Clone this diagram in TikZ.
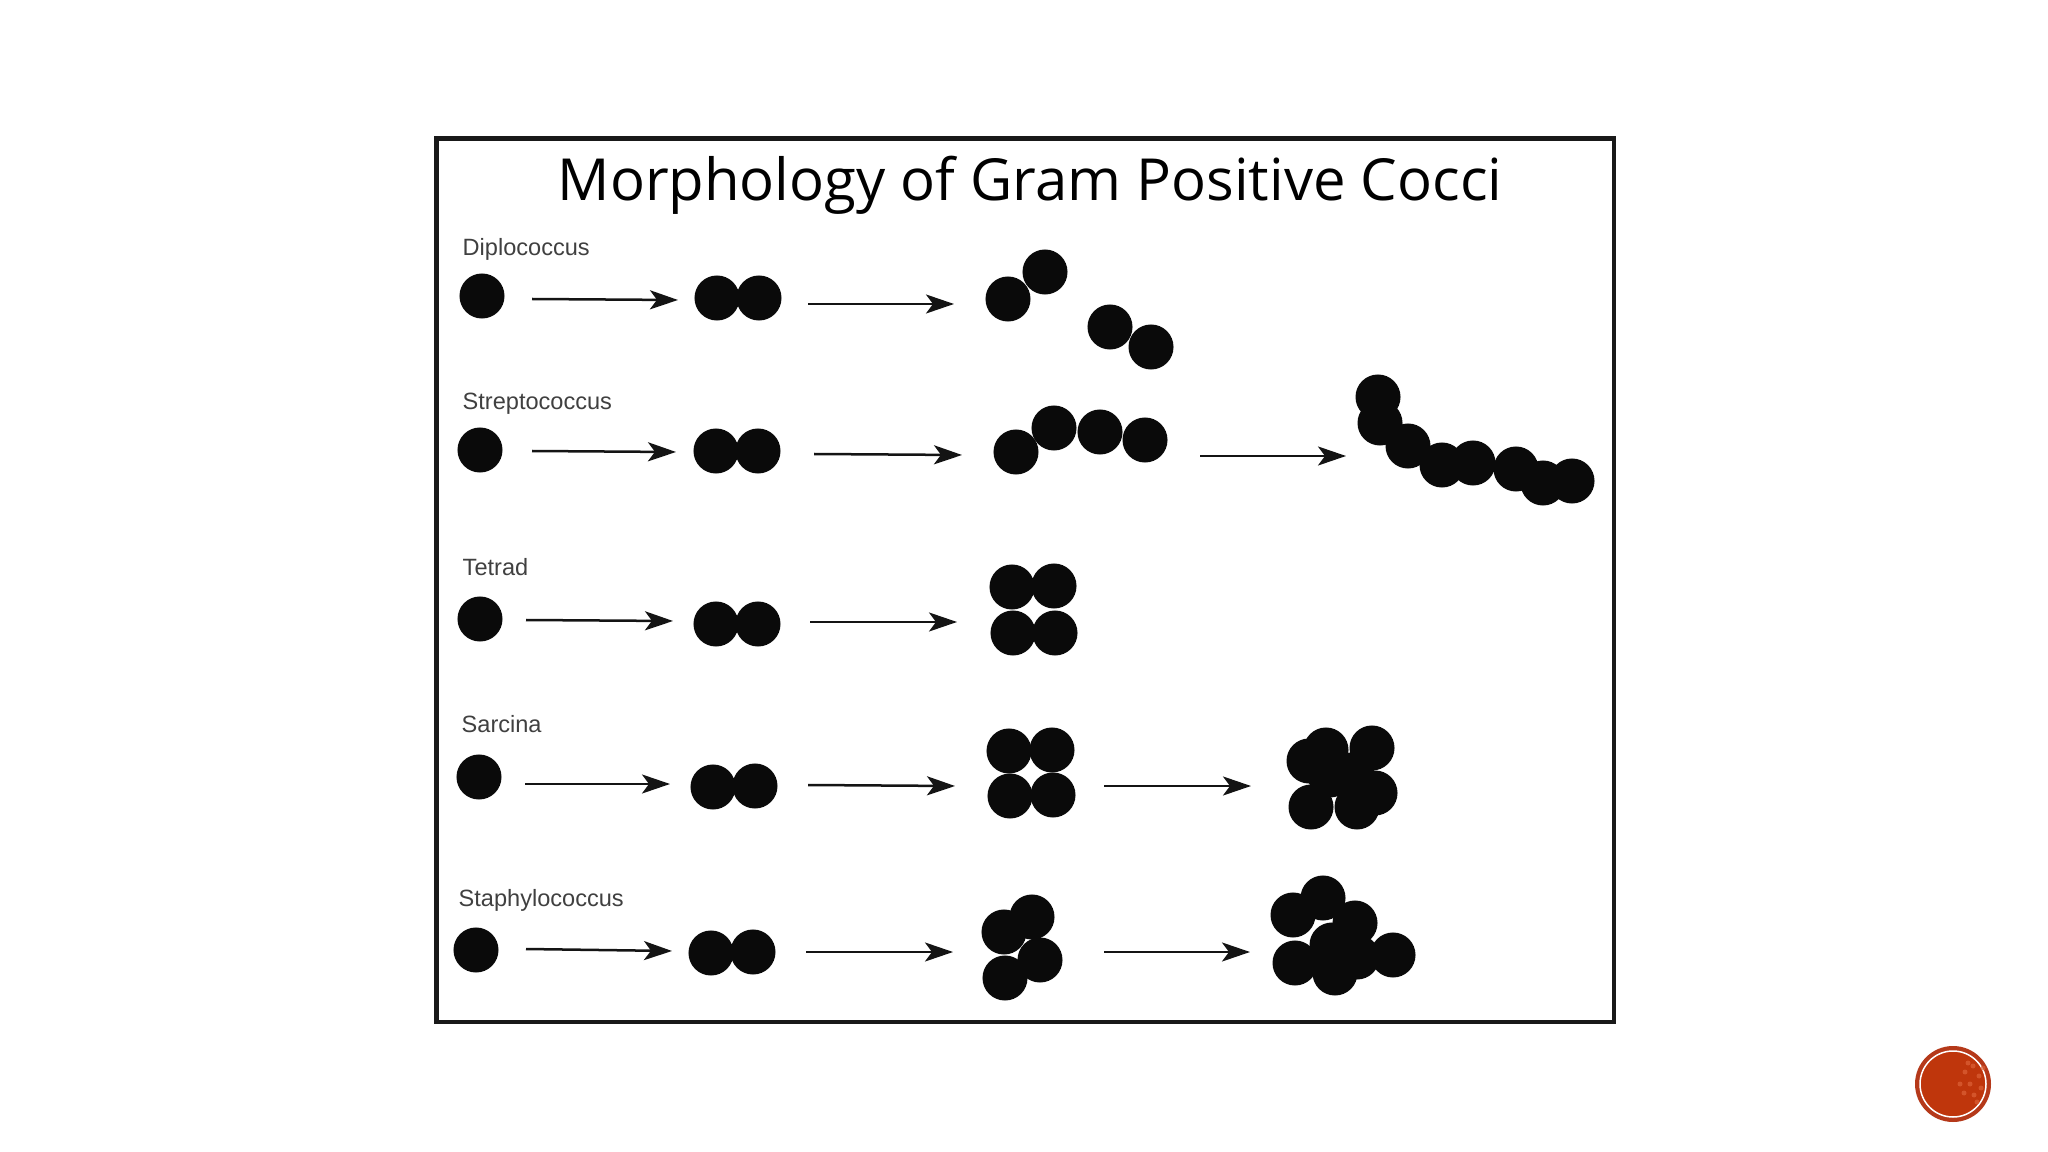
\documentclass[tikz,border=0pt]{standalone}
\usepackage{fontspec}
\setmainfont{Open Sans}
\newfontfamily\labelfont{Liberation Sans}
\usetikzlibrary{calc,arrows.meta}
\definecolor{btnred}{HTML}{BF360C}
\definecolor{btnrim}{HTML}{B5391A}
\definecolor{btnspot}{HTML}{DC6238}
\tikzset{
	coccus/.style={circle,fill=black!96,inner sep=0,minimum size=0.45cm},
	growth/.style={draw=black!92,line width=0.25mm,-{Stealth[length=2.8mm,width=1.9mm,inset=0.7mm]}},
	rowlabel/.style={anchor=base west,inner sep=0,text=black!75,font=\labelfont\fontsize{6.7}{8}\selectfont}
}

\begin{document}
\begin{tikzpicture}[x=0.01cm,y=-0.01cm]
			\useasboundingbox (0,0) rectangle (2048,1152);
			\fill[white] (0,0) rectangle (2048,1152);
			%%%%% FRAME %%%%%
			\draw[line width=0.42mm,black!90] (436.5,138.5) rectangle (1614,1022);
			\node[anchor=base,inner sep=0,font=\fontsize{16.5}{20}\selectfont] (title) at (1030,201) {Morphology of Gram Positive Cocci};
			
			%%%%% DIPLOCOCCUS %%%%%
			\node[rowlabel] (diplolabel) at (462,256) {Diplococcus};
			\node[coccus] (d1) at (482,296) {};
			\node[coccus] (d2a) at (717,298) {};
			\node[coccus] (d2b) at (759,298) {};
			\foreach \name/\x/\y in {d3a/1008/299,d3b/1045/272,d3c/1110/327,d3d/1151/347}
				\node[coccus] (\name) at (\x,\y) {};
			\draw[growth] ($(d1)+(50,3)$) -- ($(d2a)+(-39,2)$);
			\draw[growth] ($(d2b)+(49,6)$) -- ($(d3a)+(-54,5)$);
			
			%%%%% STREPTOCOCCUS %%%%%
			\node[rowlabel] (streptolabel) at (462,410) {Streptococcus};
			\node[coccus] (s1) at (480,450) {};
			\node[coccus] (s2a) at (716,451) {};
			\node[coccus] (s2b) at (758,451) {};
			\foreach \name/\x/\y in {s3a/1016/452,s3b/1054/428,s3c/1100/432,s3d/1145/440}
				\node[coccus] (\name) at (\x,\y) {};
			\foreach \name/\x/\y in {s4a/1378/397,s4b/1380/423,s4c/1408/446,s4d/1442/465,s4e/1473/463,s4f/1516/469,s4g/1543/483,s4h/1572/481}
				\node[coccus] (\name) at (\x,\y) {};
			\draw[growth] ($(s1)+(52,1)$) -- ($(s2a)+(-40,1)$);
			\draw[growth] ($(s2b)+(56,3)$) -- ($(s3a)+(-54,3)$);
			\draw[growth] ($(s3d)+(55,16)$) -- ($(s4a)+(-32,59)$);
			
			%%%%% TETRAD %%%%%
			\node[rowlabel] (tetradlabel) at (462,575) {Tetrad};
			\node[coccus] (t1) at (480,619) {};
			\node[coccus] (t2a) at (716,624) {};
			\node[coccus] (t2b) at (758,624) {};
			\foreach \name/\x/\y in {t3a/1012/587,t3b/1054/586,t3c/1013/633,t3d/1055/633}
				\node[coccus] (\name) at (\x,\y) {};
			\draw[growth] ($(t1)+(46,1)$) -- ($(t2a)+(-43,-3)$);
			\draw[growth] ($(t2b)+(52,-2)$) -- ($(t3c)+(-56,-11)$);
			
			%%%%% SARCINA %%%%%
			\node[rowlabel] (sarcinalabel) at (461,732) {Sarcina};
			\node[coccus] (c1) at (479,777) {};
			\node[coccus] (c2a) at (713,787) {};
			\node[coccus] (c2b) at (755,786) {};
			\foreach \name/\x/\y in {c3a/1009/751,c3b/1052/750,c3c/1010/796,c3d/1053/795}
				\node[coccus] (\name) at (\x,\y) {};
			\foreach \name/\x/\y in {c4a/1326/750,c4b/1372/748,c4c/1309/761,c4d/1311/807,c4e/1375/793,c4f/1357/807,c4g/1330/775,c4h/1352/775}
				\node[coccus] (\name) at (\x,\y) {};
			\draw[growth] ($(c1)+(46,7)$) -- ($(c2a)+(-43,-3)$);
			\draw[growth] ($(c2b)+(53,-1)$) -- ($(c3c)+(-55,-10)$);
			\draw[growth] ($(c3d)+(51,-9)$) -- ($(c4c)+(-58,25)$);
			
			%%%%% STAPHYLOCOCCUS %%%%%
			\node[rowlabel] (staphlabel) at (458,906) {Staphylococcus};
			\node[coccus] (a1) at (476,950) {};
			\node[coccus] (a2a) at (711,953) {};
			\node[coccus] (a2b) at (753,952) {};
			\foreach \name/\x/\y in {a3a/1032/917,a3b/1004/932,a3c/1040/960,a3d/1005/978}
				\node[coccus] (\name) at (\x,\y) {};
			\foreach \name/\x/\y in {a4a/1323/898,a4b/1293/915,a4c/1355/923,a4d/1295/963,a4e/1335/973,a4f/1393/955,a4g/1357/957,a4h/1332/945}
				\node[coccus] (\name) at (\x,\y) {};
			\draw[growth] ($(a1)+(50,-1)$) -- ($(a2a)+(-39,-2)$);
			\draw[growth] ($(a2b)+(53,0)$) -- ($(a3d)+(-52,-26)$);
			\draw[growth] ($(a3c)+(64,-8)$) -- ($(a4d)+(-45,-11)$);
			
			%%%%% BUTTON %%%%%
			\fill[btnrim] (1953,1084) circle (38);
			\draw[fill=btnred,draw=white,line width=0.15mm] (1953,1084) circle (33);
			\foreach \x/\y in {1965/1072,1973/1066,1979/1076,1970/1084,1981/1088,1974/1095,1964/1093,1983/1068,1968/1063,1977/1102,1960/1084}
				\fill[btnspot,opacity=0.7] (\x,\y) circle (2.5);
		\end{tikzpicture}
\end{document}
